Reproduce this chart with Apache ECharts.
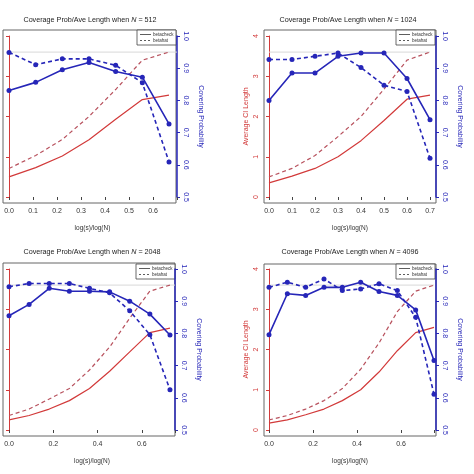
<!DOCTYPE html>
<html><head><meta charset="utf-8">
<script src="https://cdn.jsdelivr.net/npm/echarts@6/dist/echarts.min.js"></script>
<style>html,body{margin:0;padding:0;background:#fff}#c{width:474px;height:474px}</style>
</head><body><div id="c"></div>
<script>
const Ns = ['512','1024','2048','4096'];
const xs512 = [0,1/9,2/9,3/9,4/9,5/9,6/9];
const xs1024 = [0,0.1,0.2,0.3,0.4,0.5,0.6,0.7];
const xs2048 = [0,1/11,2/11,3/11,4/11,5/11,6/11,7/11,8/11];
const xs4096 = [0,1/12,2/12,3/12,4/12,5/12,6/12,7/12,8/12,9/12];

const covHat512 = [0.949,0.911,0.929,0.929,0.909,0.855,0.609];
const covCheck512 = [0.831,0.856,0.895,0.918,0.890,0.872,0.727];
const lenHat512 = [0.71,1.03,1.43,2.0,2.67,3.4,3.6];
const lenCheck512 = [0.5,0.73,1.02,1.42,1.93,2.42,2.53];

const covHat1024 = [0.927,0.927,0.937,0.947,0.902,0.847,0.828,0.62];
const covCheck1024 = [0.80,0.885,0.885,0.937,0.947,0.947,0.868,0.74];
const lenHat1024 = [0.5,0.71,1.03,1.5,2.0,2.68,3.4,3.6];
const lenCheck1024 = [0.35,0.52,0.71,1.0,1.4,1.9,2.43,2.53];

const covHat2048 = [0.945,0.955,0.955,0.955,0.94,0.926,0.87,0.796,0.625];
const covCheck2048 = [0.855,0.89,0.94,0.931,0.931,0.929,0.90,0.86,0.795];
const lenHat2048 = [0.36,0.52,0.77,1.03,1.49,2.06,2.78,3.45,3.6];
const lenCheck2048 = [0.25,0.36,0.52,0.73,1.03,1.46,1.94,2.42,2.53];

const covHat4096 = [0.943,0.959,0.943,0.969,0.933,0.938,0.954,0.933,0.85,0.611];
const covCheck4096 = [0.796,0.923,0.918,0.943,0.943,0.959,0.93,0.918,0.873,0.716];
const lenHat4096 = [0.25,0.36,0.52,0.73,1.03,1.51,2.16,2.94,3.45,3.6];
const lenCheck4096 = [0.17,0.25,0.38,0.52,0.73,1.0,1.44,1.97,2.42,2.55];

const nominal = 0.95;

const panels = [
 {xs:xs512, ch:covHat512, cc:covCheck512, lh:lenHat512, lc:lenCheck512, grid:{left:9,right:297,top:36,bottom:277}, xmax:0.7, xint:0.1, lmax:0.6, box:[3,30,176,203], off:{l:6,r:0,b:6}, leg:[137,30], cx:90, ty:20, showLeft:false},
 {xs:xs1024, ch:covHat1024, cc:covCheck1024, lh:lenHat1024, lc:lenCheck1024, grid:{left:269,right:44,top:36,bottom:277}, xmax:0.7, xint:0.1, lmax:0.7, box:[264,30,436,203], off:{l:5,r:6,b:6}, leg:[396,30], cx:348, ty:20, showLeft:true},
 {xs:xs2048, ch:covHat2048, cc:covCheck2048, lh:lenHat2048, lc:lenCheck2048, grid:{left:9,right:299,top:269,bottom:44}, xmax:0.75, xint:0.2, lmax:0.6, box:[3,263,175,436], off:{l:6,r:0,b:6}, leg:[136,264], cx:92, ty:252, showLeft:false},
 {xs:xs4096, ch:covHat4096, cc:covCheck4096, lh:lenHat4096, lc:lenCheck4096, grid:{left:269,right:40,top:269,bottom:44}, xmax:0.75, xint:0.2, lmax:0.6, box:[264,264,436,436], off:{l:5,r:2,b:6}, leg:[396,264], cx:350, ty:252, showLeft:true}
];

const RED='#d23a3a', RED2='#b8525e', BLUE='#2626b8';
const grids=[], xAxes=[], yAxes=[], series=[], graphics=[];
panels.forEach((p,i)=>{
  grids.push(p.grid);
  xAxes.push({type:'value', gridIndex:i, min:0, max:p.xmax, interval:p.xint, offset:p.off.b,
    axisLine:{show:false}, splitLine:{show:false},
    axisTick:{show:true, length:3, lineStyle:{color:'#444'}},
    axisLabel:{fontSize:7, color:'#333', margin:5, showMaxLabel:true, formatter:v=>{
      const k=Math.round(v/p.xint); if(Math.abs(k*p.xint-v)>1e-6||v>p.lmax+1e-6) return ''; return v.toFixed(1);}}});
  yAxes.push({type:'value', gridIndex:i, position:'left', min:0, max:4, interval:1, offset:p.off.l,
    name:p.showLeft?'Average CI Length':'', nameLocation:'middle', nameGap:14, nameTextStyle:{color:RED,fontSize:7},
    axisLine:{show:true, lineStyle:{color:RED}}, splitLine:{show:false},
    axisTick:{show:true,length:3,lineStyle:{color:RED}},
    axisLabel:{show:p.showLeft, fontSize:7, color:RED, rotate:90, margin:4}});
  yAxes.push({type:'value', gridIndex:i, position:'right', min:0.5, max:1.0, interval:0.1, offset:p.off.r,
    name:'Covering Probability', nameLocation:'middle', nameGap:20, nameRotate:-90, nameTextStyle:{color:BLUE,fontSize:7},
    axisLine:{show:true, lineStyle:{color:BLUE,width:1.5}}, splitLine:{show:false},
    axisTick:{show:true,length:3,lineStyle:{color:BLUE}},
    axisLabel:{fontSize:7, color:BLUE, rotate:-90, margin:5, formatter:v=>v.toFixed(1)}});
  const xi=i, yl=2*i, yr=2*i+1;
  series.push({type:'line', xAxisIndex:xi, yAxisIndex:yr, data:[[0,nominal],[p.xmax,nominal]], symbol:'none', silent:true, lineStyle:{color:'#d8d8d8',width:1}, z:1});
  series.push({type:'line', xAxisIndex:xi, yAxisIndex:yl, data:p.xs.map((x,j)=>[x,p.lc[j]]), symbol:'none', lineStyle:{color:RED,width:1.2}});
  series.push({type:'line', xAxisIndex:xi, yAxisIndex:yl, data:p.xs.map((x,j)=>[x,p.lh[j]]), symbol:'none', lineStyle:{color:RED2,width:1.2,type:[4,3]}});
  series.push({type:'line', xAxisIndex:xi, yAxisIndex:yr, data:p.xs.map((x,j)=>[x,p.cc[j]]), symbol:'circle', symbolSize:5, itemStyle:{color:BLUE}, lineStyle:{color:BLUE,width:1.6}});
  series.push({type:'line', xAxisIndex:xi, yAxisIndex:yr, data:p.xs.map((x,j)=>[x,p.ch[j]]), symbol:'circle', symbolSize:5, itemStyle:{color:BLUE}, lineStyle:{color:BLUE,width:1.6,type:[4,3]}});
  const b=p.box;
  graphics.push({type:'rect', shape:{x:b[0],y:b[1],width:b[2]-b[0],height:b[3]-b[1]}, style:{fill:null,stroke:'#666',lineWidth:1}, silent:true, z:0});
  graphics.push({type:'text', x:p.cx, y:p.ty, style:{text:'Coverage Prob/Ave Length when {i|N} = '+Ns[i], rich:{i:{fontStyle:'italic',fontSize:7.2,fill:'#222',fontFamily:'Liberation Sans'}}, fontSize:7.2, fill:'#222', align:'center', verticalAlign:'middle', fontFamily:'Liberation Sans'}});
  graphics.push({type:'text', x:(b[0]+b[2])/2+ (i%2?0:3), y:b[3]+25, style:{text:'log(s)/log(N)', fontSize:6.5, fill:'#333', align:'center', verticalAlign:'middle'}});
  const L=p.leg;
  graphics.push({type:'group', x:L[0], y:L[1], children:[
    {type:'rect', shape:{x:0,y:0,width:39,height:15}, style:{fill:'#fff',stroke:'#444',lineWidth:0.8}},
    {type:'line', shape:{x1:3,y1:4.5,x2:14,y2:4.5}, style:{stroke:'#333',lineWidth:0.8}},
    {type:'line', shape:{x1:3,y1:10.5,x2:14,y2:10.5}, style:{stroke:'#333',lineWidth:0.8,lineDash:[2,2]}},
    {type:'text', x:16, y:4.5, style:{text:'betacheck', fontSize:4.5, fill:'#333', verticalAlign:'middle'}},
    {type:'text', x:16, y:10.5, style:{text:'betahat', fontSize:4.5, fill:'#333', verticalAlign:'middle'}}
  ]});
});
const chart=echarts.init(document.getElementById('c'));
chart.setOption({animation:false, grid:grids, xAxis:xAxes, yAxis:yAxes, series:series, graphic:graphics});
</script></body></html>
